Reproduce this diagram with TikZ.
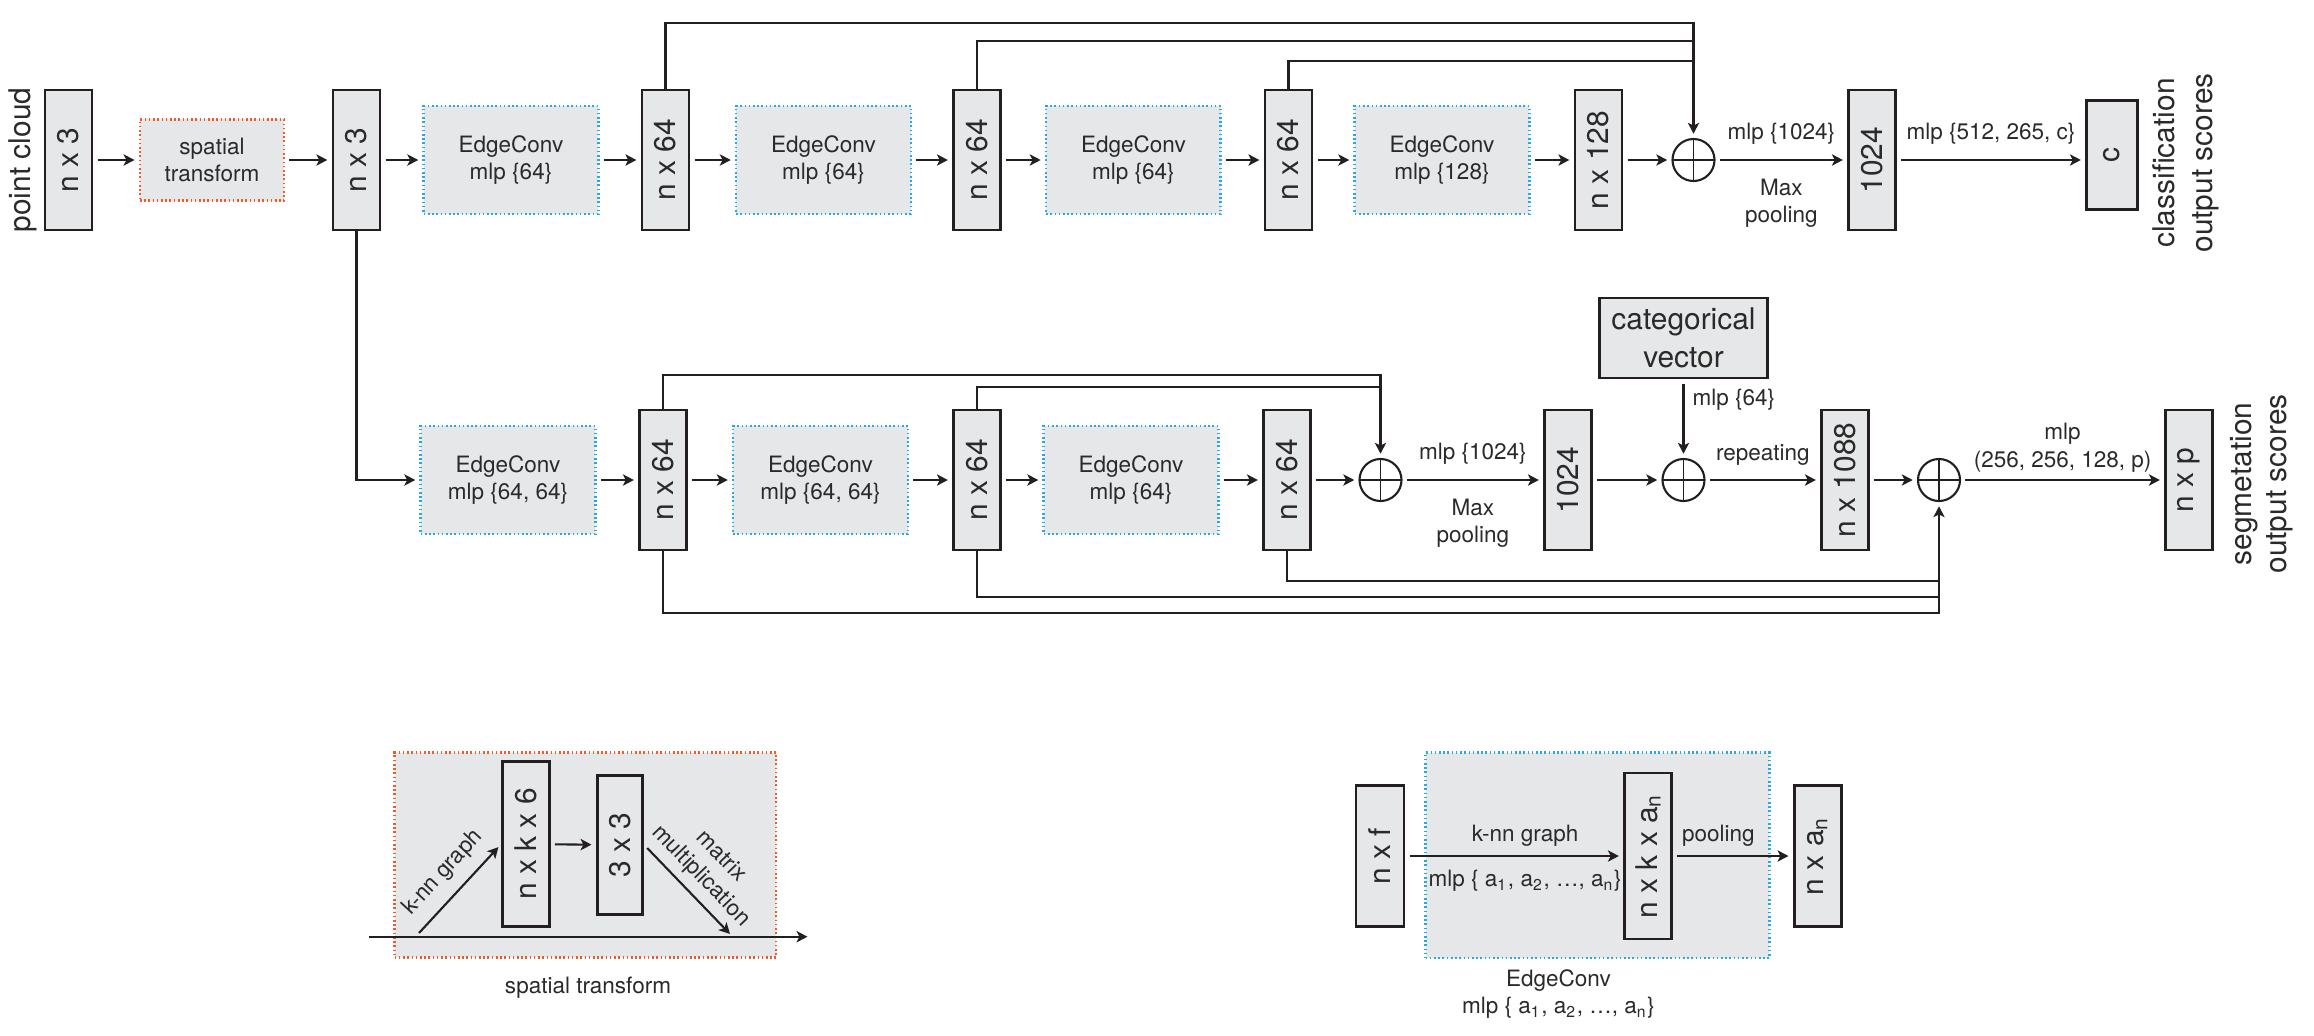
\documentclass[tikz,border=0pt]{standalone}
\usepackage{graphicx}
\usepackage{fontspec}
\setmainfont{TeX Gyre Heros}
\usetikzlibrary{arrows.meta,calc}
\definecolor{boxgray}{HTML}{E6E7E8}
\definecolor{linec}{HTML}{231F20}
\definecolor{redc}{HTML}{F15A29}
\definecolor{bluec}{HTML}{27AAE1}
\definecolor{textc}{HTML}{2A2A2A}
\newcommand\bigf{\fontsize{8.5}{10.8}\selectfont}
\newcommand\smf{\fontsize{6.4}{7.9}\selectfont}
\newcommand\vt[1]{\rotatebox{90}{#1}}
\begin{document}
\begin{tikzpicture}[x=0.01cm,y=-0.01cm,
  every node/.style={text=textc},
  ln/.style={draw=linec, line width=0.6pt},
  arr/.style={ln, -{Stealth[length=3.1pt,width=3.2pt,inset=0.8pt]}, shorten >=1.2pt, shorten <=1.2pt},
  vbox/.style={draw=linec, fill=boxgray, line width=0.8pt, inner sep=0pt, minimum width=0.47cm, minimum height=1.40cm, font=\bigf},
  edgebox/.style={draw=bluec, fill=boxgray, line width=0.7pt, dash pattern=on 0.45pt off 0.75pt, minimum width=1.745cm, minimum height=1.08cm, align=center, font=\smf, inner sep=0pt},
  redbox/.style={edgebox, draw=redc},
  plusn/.style={circle, draw=linec, line width=0.6pt, minimum size=0.42cm, inner sep=0pt,
    path picture={\draw[linec, line width=0.5pt] (path picture bounding box.north) -- (path picture bounding box.south) (path picture bounding box.west) -- (path picture bounding box.east);}},
  lab/.style={font=\smf, inner sep=1pt, align=center},
  big/.style={font=\bigf, align=center, inner sep=0pt}
]
\useasboundingbox (0,0) rectangle (2314,1036);

% ---------- top row ----------
\node[big, rotate=90] (pc) at (23,160) {point cloud};
\node[vbox] (in3) at (68.5,160) {\vt{n x 3}};
\node[redbox, minimum width=1.44cm, minimum height=0.81cm] (st) at (212,160) {spatial\\transform};
\node[vbox] (t3) at (356.5,160) {\vt{n x 3}};
\node[edgebox] (e1) at (511,160) {EdgeConv\\mlp \{64\}};
\node[vbox] (a64) at (665.5,160) {\vt{n x 64}};
\node[edgebox] (e2) at (823.5,160) {EdgeConv\\mlp \{64\}};
\node[vbox] (b64) at (977,160) {\vt{n x 64}};
\node[edgebox] (e3) at (1133.4,160) {EdgeConv\\mlp \{64\}};
\node[vbox] (c64) at (1288.5,160) {\vt{n x 64}};
\node[edgebox] (e4) at (1442,160) {EdgeConv\\mlp \{128\}};
\node[vbox] (n128) at (1598.5,160) {\vt{n x 128}};
\node[plusn] (p1) at (1693.5,160) {};
\node[vbox] (g1024) at (1872,160) {\vt{1024}};
\node[vbox, minimum width=0.51cm, minimum height=1.09cm] (cb) at (2112,155) {\vt{c}};
\node[big, rotate=90, font=\fontsize{8.5}{10.8}\selectfont] (cls) at (2186,163) {classification\\output scores};

\foreach \a/\b in {in3/st, st/t3, t3/e1, e1/a64, a64/e2, e2/b64, b64/e3, e3/c64, c64/e4, e4/n128, n128/p1}
  \draw[arr] (\a) -- (\b);
\draw[arr] (p1) -- node[lab, above=3pt] (lbl1) {mlp \{1024\}}
  node[lab, below=4pt] (lbl2) {Max\\pooling} (g1024);
\draw[arr] (g1024) -- node[lab, above=3pt] (lbl3) {mlp \{512, 265, c\}} (g1024 -| cb.west);

\coordinate (tbA) at (1693.5,23);
\coordinate (tbB) at (1693.5,41);
\coordinate (tbC) at (1693.5,61);
\draw[arr, shorten <=0pt] (a64.north) |- (tbA) -- (p1.north);
\draw[ln] (b64.north) |- (tbB);
\draw[ln] (c64.north) |- (tbC);

% ---------- lower row ----------
\node[edgebox] (le1) at (508,480) {EdgeConv\\mlp \{64, 64\}};
\node[vbox] (la) at (663,480) {\vt{n x 64}};
\node[edgebox] (le2) at (820.5,480) {EdgeConv\\mlp \{64, 64\}};
\node[vbox] (lb) at (977,480) {\vt{n x 64}};
\node[edgebox] (le3) at (1131,480) {EdgeConv\\mlp \{64\}};
\node[vbox] (lc) at (1287,480) {\vt{n x 64}};
\node[plusn] (lp1) at (1380.5,480) {};
\node[vbox] (l1024) at (1568,480) {\vt{1024}};
\node[plusn] (lp2) at (1683.5,480) {};
\node[vbox, minimum width=1.68cm, minimum height=0.80cm, align=center, font=\fontsize{8.5}{10.8}\selectfont] (cat) at (1683.5,338) {categorical\\vector};
\node[vbox] (l1088) at (1845,480) {\vt{n x 1088}};
\node[plusn] (lp3) at (1939,480) {};
\node[vbox] (np) at (2189,480) {\vt{n x p}};
\node[big, rotate=90, font=\fontsize{8.5}{10}\selectfont] (seg) at (2262,484) {segmetation\\output scores};

\draw[arr, shorten <=0pt] (t3.south) |- (le1.west);
\foreach \a/\b in {le1/la, la/le2, le2/lb, lb/le3, le3/lc, lc/lp1, l1024/lp2, l1088/lp3}
  \draw[arr] (\a) -- (\b);
\draw[arr] (lp1) -- node[lab, above=3pt] (lbl4) {mlp \{1024\}}
  node[lab, below=4pt] (lbl5) {Max\\pooling} (l1024);
\draw[arr] (cat) -- node[lab, right=1.3pt, pos=0.26] (lbl6) {mlp \{64\}} (lp2);
\draw[arr] (lp2) -- node[lab, above=2.8pt] (lbl7) {repeating} (l1088);
\draw[arr] (lp3) -- node[lab, above=0.8pt] (lbl8) {mlp\\(256, 256, 128, p)} (np);

\coordinate (lbA) at (1380.5,375);
\coordinate (lbB) at (1380.5,387);
\coordinate (lbC) at (1939,613);
\coordinate (lbD) at (1939,597);
\coordinate (lbE) at (1939,581);
\draw[arr, shorten <=0pt] (la.north) |- (lbA) -- (lp1.north);
\draw[ln] (lb.north) |- (lbB);
\draw[arr, shorten <=0pt] (la.south) |- (lbC) -- (lp3.south);
\draw[ln] (lb.south) |- (lbD);
\draw[ln] (lc.south) |- (lbE);

% ---------- spatial transform detail ----------
\node[redbox, minimum width=3.813cm, minimum height=2.046cm] (stbig) at (585.4,855) {};
\node[vbox, minimum width=0.465cm, minimum height=1.65cm] (nk6) at (526,844) {\vt{n x k x 6}};
\node[vbox, minimum width=0.457cm, minimum height=1.393cm] (m33) at (620,845) {\vt{3 x 3}};
\coordinate (hlS) at (369,936.7);
\coordinate (hlE) at (807.5,936.7);
\coordinate (knnS) at (419,933);
\coordinate (mmE) at (730,934);
\draw[arr, shorten <=0pt, shorten >=0pt] (hlS) -- (hlE);
\draw[arr, shorten <=0pt] (knnS) -- node[lab, sloped, above=2.3pt] (lbl9) {k-nn graph} (nk6.west);
\draw[arr] (nk6) -- (m33);
\draw[arr, shorten >=0pt] (m33.east) -- node[lab, sloped, above=1.1pt] (lbl10) {matrix\\multiplication} (mmE);
\node[lab] (stl) at (588,988) {spatial transform};

% ---------- EdgeConv detail ----------
\node[edgebox, minimum width=3.436cm, minimum height=2.05cm] (ecbig) at (1597.5,855.2) {};
\node[vbox, minimum width=0.48cm, minimum height=1.406cm] (nf) at (1380,856) {\vt{n x f}};
\node[vbox, minimum width=0.47cm, minimum height=1.66cm] (nka) at (1648,856) {\vt{n x k x a\textsubscript{n}}};
\node[vbox, minimum width=0.47cm, minimum height=1.407cm] (na) at (1817.6,856) {\vt{n x a\textsubscript{n}}};
\draw[arr] (nf) -- node[lab, above=1.4pt, pos=0.55] (lbl11) {k-nn graph}
  node[lab, below=2.8pt, pos=0.55] (lbl12) {mlp \{ a\textsubscript{1}, a\textsubscript{2}, …, a\textsubscript{n}\}} (nka);
\draw[arr] (nka) -- node[lab, above=1.4pt, pos=0.38] (lbl13) {pooling} (na);
\node[lab] (ecl) at (1558.5,994) {EdgeConv\\mlp \{ a\textsubscript{1}, a\textsubscript{2}, …, a\textsubscript{n}\}};
\end{tikzpicture}
\end{document}
